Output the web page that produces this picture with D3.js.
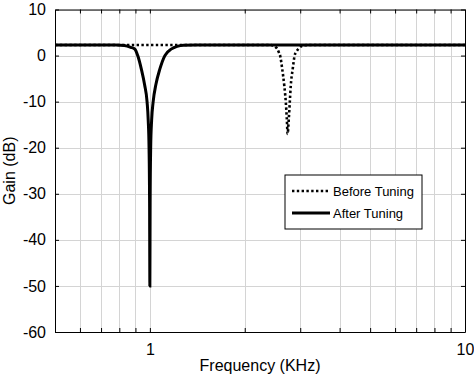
<!DOCTYPE html>
<html lang="en">
<head>
<meta charset="UTF-8">
<title>Gain vs Frequency</title>
<style>
    body { margin: 0; background: #fff; }
    svg { font-family: "Liberation Sans", Arial, Helvetica, sans-serif; }
    .grid line { stroke: #d4d4d4; stroke-width: 1; }
    .line { fill: none; stroke: #000; }
</style>
</head>
<body>
<svg id="chart" width="474" height="376"></svg>

<script src="https://cdn.jsdelivr.net/npm/d3@7/dist/d3.min.js"></script>
<script>

// data
const beforeFreq = [0.5, 2.40, 2.46, 2.51, 2.54, 2.57, 2.59, 2.63, 2.67, 2.70, 2.72, 2.736,
    2.76, 2.78, 2.80, 2.84, 2.88, 2.92, 2.96, 3.02, 3.10, 3.3, 10]
const beforeGain = [2.3, 2.3, 2.2, 1.8, 1.4, 0.6, 0, -2.9, -6.5, -10.1, -13.7, -17,
    -13.7, -10.1, -6.5, -2.9, 0, 0.9, 1.45, 2.0, 2.25, 2.3, 2.3]

const afterFreq = [0.5, 0.78, 0.83, 0.87, 0.896, 0.915, 0.94, 0.962, 0.98, 0.988, 0.994, 0.998, 1.0,
    1.002, 1.006, 1.013, 1.024, 1.045, 1.076, 1.116, 1.172, 1.22, 1.28, 1.4, 10]
const afterGain = [2.3, 2.3, 2.2, 1.8, 1.4, 0, -3.0, -6.3, -10.1, -14, -20, -32, -50,
    -32, -20, -14, -10.1, -6.3, -2.9, 0, 1.45, 2.0, 2.25, 2.3, 2.3]

const yTicks = [-60, -50, -40, -30, -20, -10, 0, 10]
const xTickLabels = [1, 10]
const xGridTicks = [0.6, 0.7, 0.8, 0.9, 1, 2, 3, 4, 5, 6, 7, 8, 9, 10]
const seriesNames = ["Before Tuning", "After Tuning"]

let svg = d3.select("#chart")

let plotLeft = 55, plotRight = 465, plotTop = 9.5, plotBottom = 332

let x = d3.scaleLog().domain([0.5, 10]).range([plotLeft, plotRight])
let y = d3.scaleLinear().domain([-60, 10]).range([plotBottom, plotTop])

// grid
let grid = svg.append("g").attr("class", "grid")
grid.selectAll(".gx").data(xGridTicks).enter().append("line")
    .attr("x1", d => Math.round(x(d)) + 0.5).attr("x2", d => Math.round(x(d)) + 0.5)
    .attr("y1", plotTop).attr("y2", plotBottom)
grid.selectAll(".gy").data(yTicks).enter().append("line")
    .attr("y1", d => Math.round(y(d)) + 0.5).attr("y2", d => Math.round(y(d)) + 0.5)
    .attr("x1", plotLeft).attr("x2", plotRight)

// curves
svg.append("clipPath").attr("id", "clip").append("rect")
    .attr("x", plotLeft).attr("y", plotTop)
    .attr("width", plotRight - plotLeft).attr("height", plotBottom - plotTop)

let line = d3.line()
    .x(d => x(d[0]))
    .y(d => y(d[1]))
    .curve(d3.curveMonotoneX)

let plot = svg.append("g").attr("clip-path", "url(#clip)")

plot.append("path")
    .datum(afterFreq.map((f, i) => [f, afterGain[i]]))
    .attr("class", "line")
    .attr("stroke-width", 3)
    .attr("d", line)

plot.append("path")
    .datum(beforeFreq.map((f, i) => [f, beforeGain[i]]))
    .attr("class", "line")
    .attr("stroke-width", 2.6)
    .attr("stroke-dasharray", "2.4,2.4")
    .attr("d", line)

// axes (box with inward ticks)
let tickLen = 4
let xAxisB = d3.axisBottom(x).tickValues(xGridTicks).tickSizeInner(-tickLen).tickSizeOuter(0)
    .tickFormat(d => xTickLabels.includes(d) ? String(d) : "").tickPadding(12)
let xAxisT = d3.axisTop(x).tickValues(xGridTicks).tickSizeInner(-tickLen).tickSizeOuter(0).tickFormat("")
let yAxisL = d3.axisLeft(y).tickValues(yTicks).tickSizeInner(-tickLen).tickSizeOuter(0).tickPadding(9)
    .tickFormat(d => String(d)) // plain hyphen, not unicode minus
let yAxisR = d3.axisRight(y).tickValues(yTicks).tickSizeInner(-tickLen).tickSizeOuter(0).tickFormat("")

svg.append("g").attr("transform", `translate(0,${plotBottom})`).call(xAxisB)
svg.append("g").attr("transform", `translate(0,${plotTop})`).call(xAxisT)
svg.append("g").attr("transform", `translate(${plotLeft},0)`).call(yAxisL)
svg.append("g").attr("transform", `translate(${plotRight},0)`).call(yAxisR)

svg.selectAll(".domain, .tick line").attr("stroke", "#000").attr("stroke-width", 1)
svg.selectAll(".tick text").attr("fill", "#000").attr("font-size", 16)
    .attr("font-family", "Liberation Sans, Arial, sans-serif")

// axis titles
svg.append("text")
    .attr("x", (plotLeft + plotRight) / 2).attr("y", 371)
    .attr("text-anchor", "middle").attr("font-size", 16)
    .text("Frequency (KHz)")

svg.append("text")
    .attr("transform", `translate(15,${(plotTop + plotBottom) / 2}) rotate(-90)`)
    .attr("text-anchor", "middle").attr("font-size", 16)
    .text("Gain (dB)")

// legend
let legend = svg.append("g").attr("transform", "translate(285,175)")
legend.append("rect")
    .attr("width", 137).attr("height", 54)
    .attr("fill", "#fff").attr("stroke", "#000").attr("stroke-width", 1)

let entries = legend.selectAll(".entry").data(seriesNames).enter().append("g")
    .attr("transform", (d, i) => `translate(0,${16 + i * 22})`)

entries.append("line")
    .attr("x1", 7).attr("x2", 45)
    .attr("stroke", "#000")
    .attr("stroke-width", (d, i) => i === 0 ? 2.6 : 3)
    .attr("stroke-dasharray", (d, i) => i === 0 ? "2.4,2.4" : null)

entries.append("text")
    .attr("x", 48).attr("dy", "0.35em")
    .attr("font-size", 13)
    .text(d => d)

</script>
</body>
</html>
